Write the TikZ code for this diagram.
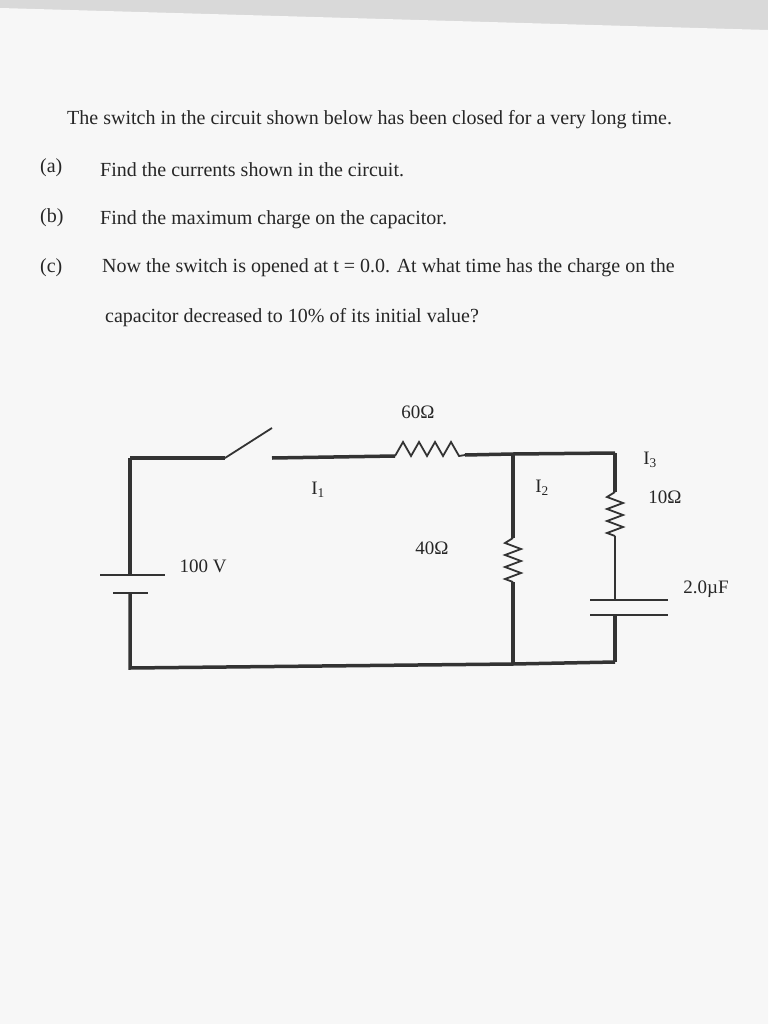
\documentclass[tikz,border=0pt]{standalone}
\usepackage{fontspec}
\setmainfont{Liberation Serif}
\begin{document}
\begin{tikzpicture}[x=1pt,y=-1pt,
  txt/.style={anchor=west,inner sep=0pt,font=\fontsize{20}{24}\selectfont,text=black!85},
  lbl/.style={inner sep=0pt,font=\fontsize{19}{22}\selectfont,text=black!85},
  wire/.style={line width=3.5pt,black!80},
  thin/.style={line width=1.8pt,black!80}]
\useasboundingbox (0,0) rectangle (768,1024);
\fill[black!15] (0,0) rectangle (768,1024);
\fill[white!97!black] (0,8) -- (768,30) -- (768,1024) -- (0,1024) -- cycle;
\node[txt] (t0) at (67,120) {The switch in the circuit shown below has been closed for a very long time.};
\node[txt] (a) at (40,168) {(a)};
\node[txt] (ta) at (100,170) {Find the currents shown in the circuit.};
\node[txt] (b) at (40,218) {(b)};
\node[txt] (tb) at (100,220) {Find the maximum charge on the capacitor.};
\node[txt] (c) at (40,268) {(c)};
\node[txt] (tc) at (102,268) {Now the switch is opened at t = 0.0. At what time has the charge on the};
\node[txt] (td) at (105,318) {capacitor decreased to 10\% of its initial value?};
% coordinates
\coordinate (tl) at (130,458);
\coordinate (sw1) at (225,458);
\coordinate (sw2) at (272,428);
\coordinate (sw3) at (272,458);
\coordinate (r1a) at (395,456);
\coordinate (r1b) at (465,455);
\coordinate (mt) at (513,454);
\coordinate (tr) at (615,453);
\coordinate (bl) at (130,668);
\coordinate (mb) at (513,664);
\coordinate (br) at (615,662);
% top wire & switch
\draw[wire] (tl) -- (sw1);
\draw[thin] (sw1) -- (sw2);
\draw[wire] (sw3) -- (r1a);
\draw[thin] (r1a) -- ++(8,-14) -- ++(8,14) -- ++(8,-14) -- ++(8,14) -- ++(8,-14) -- ++(8,14) -- ++(8,-14) -- ++(8,14) -- (r1b);
\draw[wire] (r1b) -- (mt) -- (tr);
% left branch with battery
\draw[wire] (tl) -- (130,575);
\draw[thin] (100,575) -- (165,575);
\draw[thin] (113,593) -- (148,593);
\draw[wire] (130,593) -- (bl) -- (mb) -- (br);
% middle branch
\draw[wire] (mt) -- (513,538);
\draw[thin] (513,538) -- ++(-8,5) -- ++(16,6) -- ++(-16,6) -- ++(16,6) -- ++(-16,6) -- ++(16,6) -- ++(-16,6) -- ++(8,3);
\draw[wire] (513,582) -- (mb);
% right branch
\draw[wire] (tr) -- (615,492);
\draw[thin] (615,492) -- ++(-8,5) -- ++(16,6) -- ++(-16,6) -- ++(16,6) -- ++(-16,6) -- ++(16,6) -- ++(-16,6) -- ++(8,3);
\draw[thin] (615,536) -- (615,600);
\draw[thin] (590,600) -- (668,600);
\draw[thin] (590,615) -- (668,615);
\draw[wire] (615,615) -- (br);
% labels
\node[lbl] (l60) at (418,412) {60Ω};
\node[lbl] (li1) at (318,490) {I\textsubscript{1}};
\node[lbl] (li2) at (542,488) {I\textsubscript{2}};
\node[lbl] (li3) at (650,460) {I\textsubscript{3}};
\node[lbl] (l10) at (665,497) {10Ω};
\node[lbl] (l40) at (432,548) {40Ω};
\node[lbl] (lv) at (203,566) {100 V};
\node[lbl] (lc) at (706,589) {2.0µF};
\end{tikzpicture}
\end{document}
